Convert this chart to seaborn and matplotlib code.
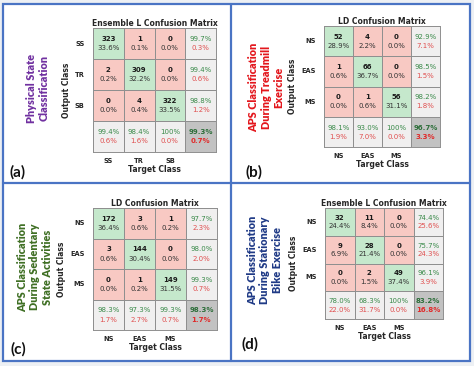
import numpy as np
import seaborn as sns
import matplotlib
matplotlib.use('Agg')
import matplotlib.pyplot as plt
from matplotlib.colors import ListedColormap
from matplotlib.patches import Rectangle

sns.set_style('white')
plt.rcParams['font.family'] = ['DejaVu Sans']

# confusion matrices (rows = output class, cols = target class)
counts_a = [[323, 1, 0], [2, 309, 0], [0, 4, 322]]
counts_b = [[52, 4, 0], [1, 66, 0], [0, 1, 56]]
counts_c = [[172, 3, 1], [3, 144, 0], [0, 1, 149]]
counts_d = [[32, 11, 0], [9, 28, 0], [0, 2, 49]]

labels_a = ['SS', 'TR', 'SB']
labels_aps = ['NS', 'EAS', 'MS']

titles = ['Ensemble L Confusion Matrix', 'LD Confusion Matrix',
          'LD Confusion Matrix', 'Ensemble L Confusion Matrix']
side_titles = ['Physical State\nClassification',
               'APS Classification\nDuring Treadmill\nExercise',
               'APS Classification\nDuring Sedentary\nState Activities',
               'APS Classification\nDuring Stationary\nBike Exercise']
side_colors = ['#7030a0', '#e3161c', '#3f6f24', '#1f3a86']
panel_tags = ['(a)', '(b)', '(c)', '(d)']

W, H = 474, 366
GREEN_TXT = '#3a8a4a'
RED_TXT = '#e05050'


def fmt(v):
    if round(v, 1) == 100:
        return '100%'
    return '{:.1f}%'.format(v)


def draw_cm(fig, box, counts, labels, title):
    x0, y0, x1, y1 = box
    ax = fig.add_axes([x0 / W, 1 - y1 / H, (x1 - x0) / W, (y1 - y0) / H])
    cm = np.array(counts)
    n = len(cm)
    # colour codes: 0 wrong, 1 correct, 2 summary, 3 overall
    codes = np.zeros((n + 1, n + 1))
    codes[np.arange(n), np.arange(n)] = 1
    codes[n, :] = 2
    codes[:, n] = 2
    codes[n, n] = 3
    cmap = ListedColormap(['#f8c9c3', '#c5e8cc', '#f0efef', '#c2c2c2'])
    sns.heatmap(codes, ax=ax, cmap=cmap, vmin=-0.5, vmax=3.5, cbar=False,
                linewidths=0.7, linecolor='#8f8f8f',
                xticklabels=labels + [''], yticklabels=labels + [''])
    total = cm.sum()
    for i in range(n):
        for j in range(n):
            ax.text(j + 0.5, i + 0.36, str(cm[i, j]), ha='center', va='center',
                    fontsize=5, fontweight='bold', color='#1a1a1a')
            ax.text(j + 0.5, i + 0.66, fmt(100 * cm[i, j] / total), ha='center',
                    va='center', fontsize=5, color='#333333')
    # row summary (precision)
    for i in range(n):
        p = 100 * cm[i, i] / cm[i, :].sum()
        ax.text(n + 0.5, i + 0.36, fmt(p), ha='center', va='center', fontsize=5, color=GREEN_TXT)
        ax.text(n + 0.5, i + 0.66, fmt(100 - p), ha='center', va='center', fontsize=5, color=RED_TXT)
    # column summary (recall)
    for j in range(n):
        r = 100 * cm[j, j] / cm[:, j].sum()
        ax.text(j + 0.5, n + 0.36, fmt(r), ha='center', va='center', fontsize=5, color=GREEN_TXT)
        ax.text(j + 0.5, n + 0.66, fmt(100 - r), ha='center', va='center', fontsize=5, color=RED_TXT)
    acc = 100 * np.trace(cm) / total
    ax.text(n + 0.5, n + 0.36, fmt(acc), ha='center', va='center', fontsize=5,
            fontweight='bold', color='#2d6e3a')
    ax.text(n + 0.5, n + 0.66, fmt(100 - acc), ha='center', va='center', fontsize=5,
            fontweight='bold', color='#e02a2a')

    ax.set_title(title, fontsize=5.5, fontweight='bold', pad=1.5)
    ax.set_xlabel('Target Class', fontsize=5.5, fontweight='bold', labelpad=1)
    ax.set_ylabel('Output Class', fontsize=5.5, fontweight='bold', labelpad=3)
    ax.tick_params(axis='x', length=0, labelsize=4.8, pad=4)
    ax.tick_params(axis='y', length=0, labelsize=4.8, pad=6)
    plt.setp(ax.get_xticklabels(), rotation=0, fontweight='bold')
    plt.setp(ax.get_yticklabels(), rotation=0, fontweight='bold')
    for s in ax.spines.values():
        s.set_visible(True)
        s.set_color('#8f8f8f')
        s.set_linewidth(0.7)
    return ax


fig = plt.figure(figsize=(4.74, 3.66), dpi=100)
fig.patch.set_facecolor('#edf0f4')

# white panel area with blue frame
fig.patches.append(Rectangle((3 / W, 1 - 361 / H), 467 / W, 357 / H, transform=fig.transFigure,
                             facecolor='white', edgecolor='#4a74c4', linewidth=1.6, zorder=-10))
fig.add_artist(plt.Line2D([231 / W, 231 / W], [1 - 361 / H, 1 - 4 / H], color='#4a74c4', lw=1.6))
fig.add_artist(plt.Line2D([3 / W, 470 / W], [1 - 183 / H, 1 - 183 / H], color='#4a74c4', lw=1.6))

boxes = [(93, 28, 216, 152), (324, 26, 440, 147), (93, 208, 217, 330), (325, 208, 443, 319)]
all_counts = [counts_a, counts_b, counts_c, counts_d]
all_labels = [labels_a, labels_aps, labels_aps, labels_aps]
for k in range(4):
    draw_cm(fig, boxes[k], all_counts[k], all_labels[k], titles[k])

side_pos = [(38, 88), (266, 87), (35, 267), (265, 260)]
for k in range(4):
    sx, sy = side_pos[k]
    fig.text(sx / W, 1 - sy / H, side_titles[k], rotation=90, ha='center', va='center',
             fontsize=7.8, fontweight='heavy', color=side_colors[k], family=['Lato', 'DejaVu Sans'],
             linespacing=1.2)

tag_pos = [(18, 172), (254, 172), (18, 349), (250, 344)]
for k in range(4):
    tx, ty = tag_pos[k]
    fig.text(tx / W, 1 - ty / H, panel_tags[k], ha='center', va='center', fontsize=11,
             fontweight='bold', color='#111111', family=['Lato', 'DejaVu Sans'])

fig.savefig('out.png', dpi=100, facecolor=fig.get_facecolor())
